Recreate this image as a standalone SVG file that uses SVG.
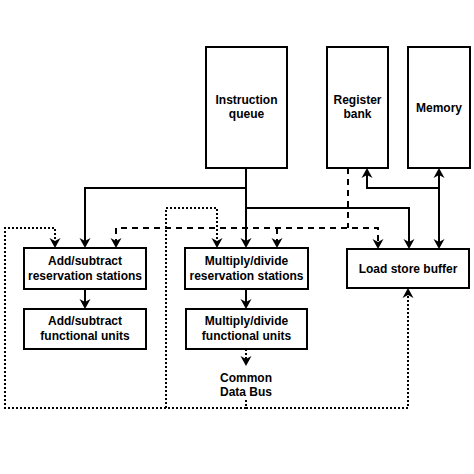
<svg xmlns="http://www.w3.org/2000/svg" width="474" height="474" viewBox="0 0 474 474">
<style>
.box{fill:#fff;stroke:#000;stroke-width:2}
.t{font-family:"Liberation Sans",Arial,sans-serif;font-weight:bold;font-size:12px;text-anchor:middle;fill:#000}
.c{fill:none;stroke:#000;stroke-width:2}
.dash{stroke-dasharray:6 5}
.dot{stroke-dasharray:2 2}
</style>
<defs>
<marker id="a" markerUnits="userSpaceOnUse" markerWidth="14" markerHeight="14" viewBox="-1 -7 14 14" refX="7" refY="0" orient="auto">
<path d="M0,-5.5 L10,0 L0,5.5 L3,0 Z" fill="#000"/>
</marker>
<marker id="s" markerUnits="userSpaceOnUse" markerWidth="14" markerHeight="14" viewBox="-1 -7 14 14" refX="7" refY="0" orient="auto-start-reverse">
<path d="M0,-5.5 L10,0 L0,5.5 L3,0 Z" fill="#000"/>
</marker>
</defs>
<rect width="474" height="474" fill="#fff"/>
<g id="connectors">
<!-- instruction queue -->
<path class="c" d="M246,168 V245" marker-end="url(#a)"/>
<path class="c" d="M246,188 H85 V245" marker-end="url(#a)"/>
<path class="c" d="M246,208 H409 V246" marker-end="url(#a)"/>
<!-- register bank dashed -->
<path class="c dash" d="M348,168 V228"/>
<path class="c dash" d="M116,245 V228 H378 V246" marker-start="url(#s)" marker-end="url(#a)"/>
<path class="c dash" d="M277,228 V245" marker-end="url(#a)"/>
<!-- memory / register / LSB -->
<path class="c" d="M439,171 V246" marker-start="url(#s)" marker-end="url(#a)"/>
<path class="c" d="M439,188 H367 V171" marker-end="url(#a)"/>
<!-- RS to FU -->
<path class="c" d="M85,289 V306" marker-end="url(#a)"/>
<path class="c" d="M246,289 V306" marker-end="url(#a)"/>
<!-- CDB -->
<path class="c dot" d="M246,349 V363" marker-end="url(#a)"/>
<path class="c dot" d="M246,400 V408 H5 V228 H55 V245" marker-end="url(#a)"/>
<path class="c dot" d="M166,408 V208 H217 V245" marker-end="url(#a)"/>
<path class="c dot" d="M246,408 H408 V291" marker-end="url(#a)"/>
</g>
<g id="instruction-queue">
<rect class="box" x="206" y="47" width="81" height="121"/>
<text class="t" x="246.5" y="104">Instruction</text>
<text class="t" x="246.5" y="118">queue</text>
</g>
<g id="register-bank">
<rect class="box" x="327" y="47" width="61" height="121"/>
<text class="t" x="357.5" y="104">Register</text>
<text class="t" x="357.5" y="118">bank</text>
</g>
<g id="memory">
<rect class="box" x="408" y="47" width="62" height="121"/>
<text class="t" x="439" y="112">Memory</text>
</g>
<g id="add-rs">
<rect class="box" x="24" y="248" width="122" height="41"/>
<text class="t" x="85" y="265">Add/subtract</text>
<text class="t" x="85" y="280">reservation stations</text>
</g>
<g id="add-fu">
<rect class="box" x="24" y="309" width="122" height="40"/>
<text class="t" x="85" y="325">Add/subtract</text>
<text class="t" x="85" y="340">functional units</text>
</g>
<g id="mul-rs">
<rect class="box" x="185" y="248" width="123" height="41"/>
<text class="t" x="246.5" y="265">Multiply/divide</text>
<text class="t" x="246.5" y="280">reservation stations</text>
</g>
<g id="mul-fu">
<rect class="box" x="186" y="309" width="121" height="40"/>
<text class="t" x="246.5" y="325">Multiply/divide</text>
<text class="t" x="246.5" y="340">functional units</text>
</g>
<g id="load-store-buffer">
<rect class="box" x="347" y="249" width="122" height="39"/>
<text class="t" x="408" y="273">Load store buffer</text>
</g>
<g id="common-data-bus">
<text class="t" x="246" y="382">Common</text>
<text class="t" x="246" y="396">Data Bus</text>
</g>
</svg>
